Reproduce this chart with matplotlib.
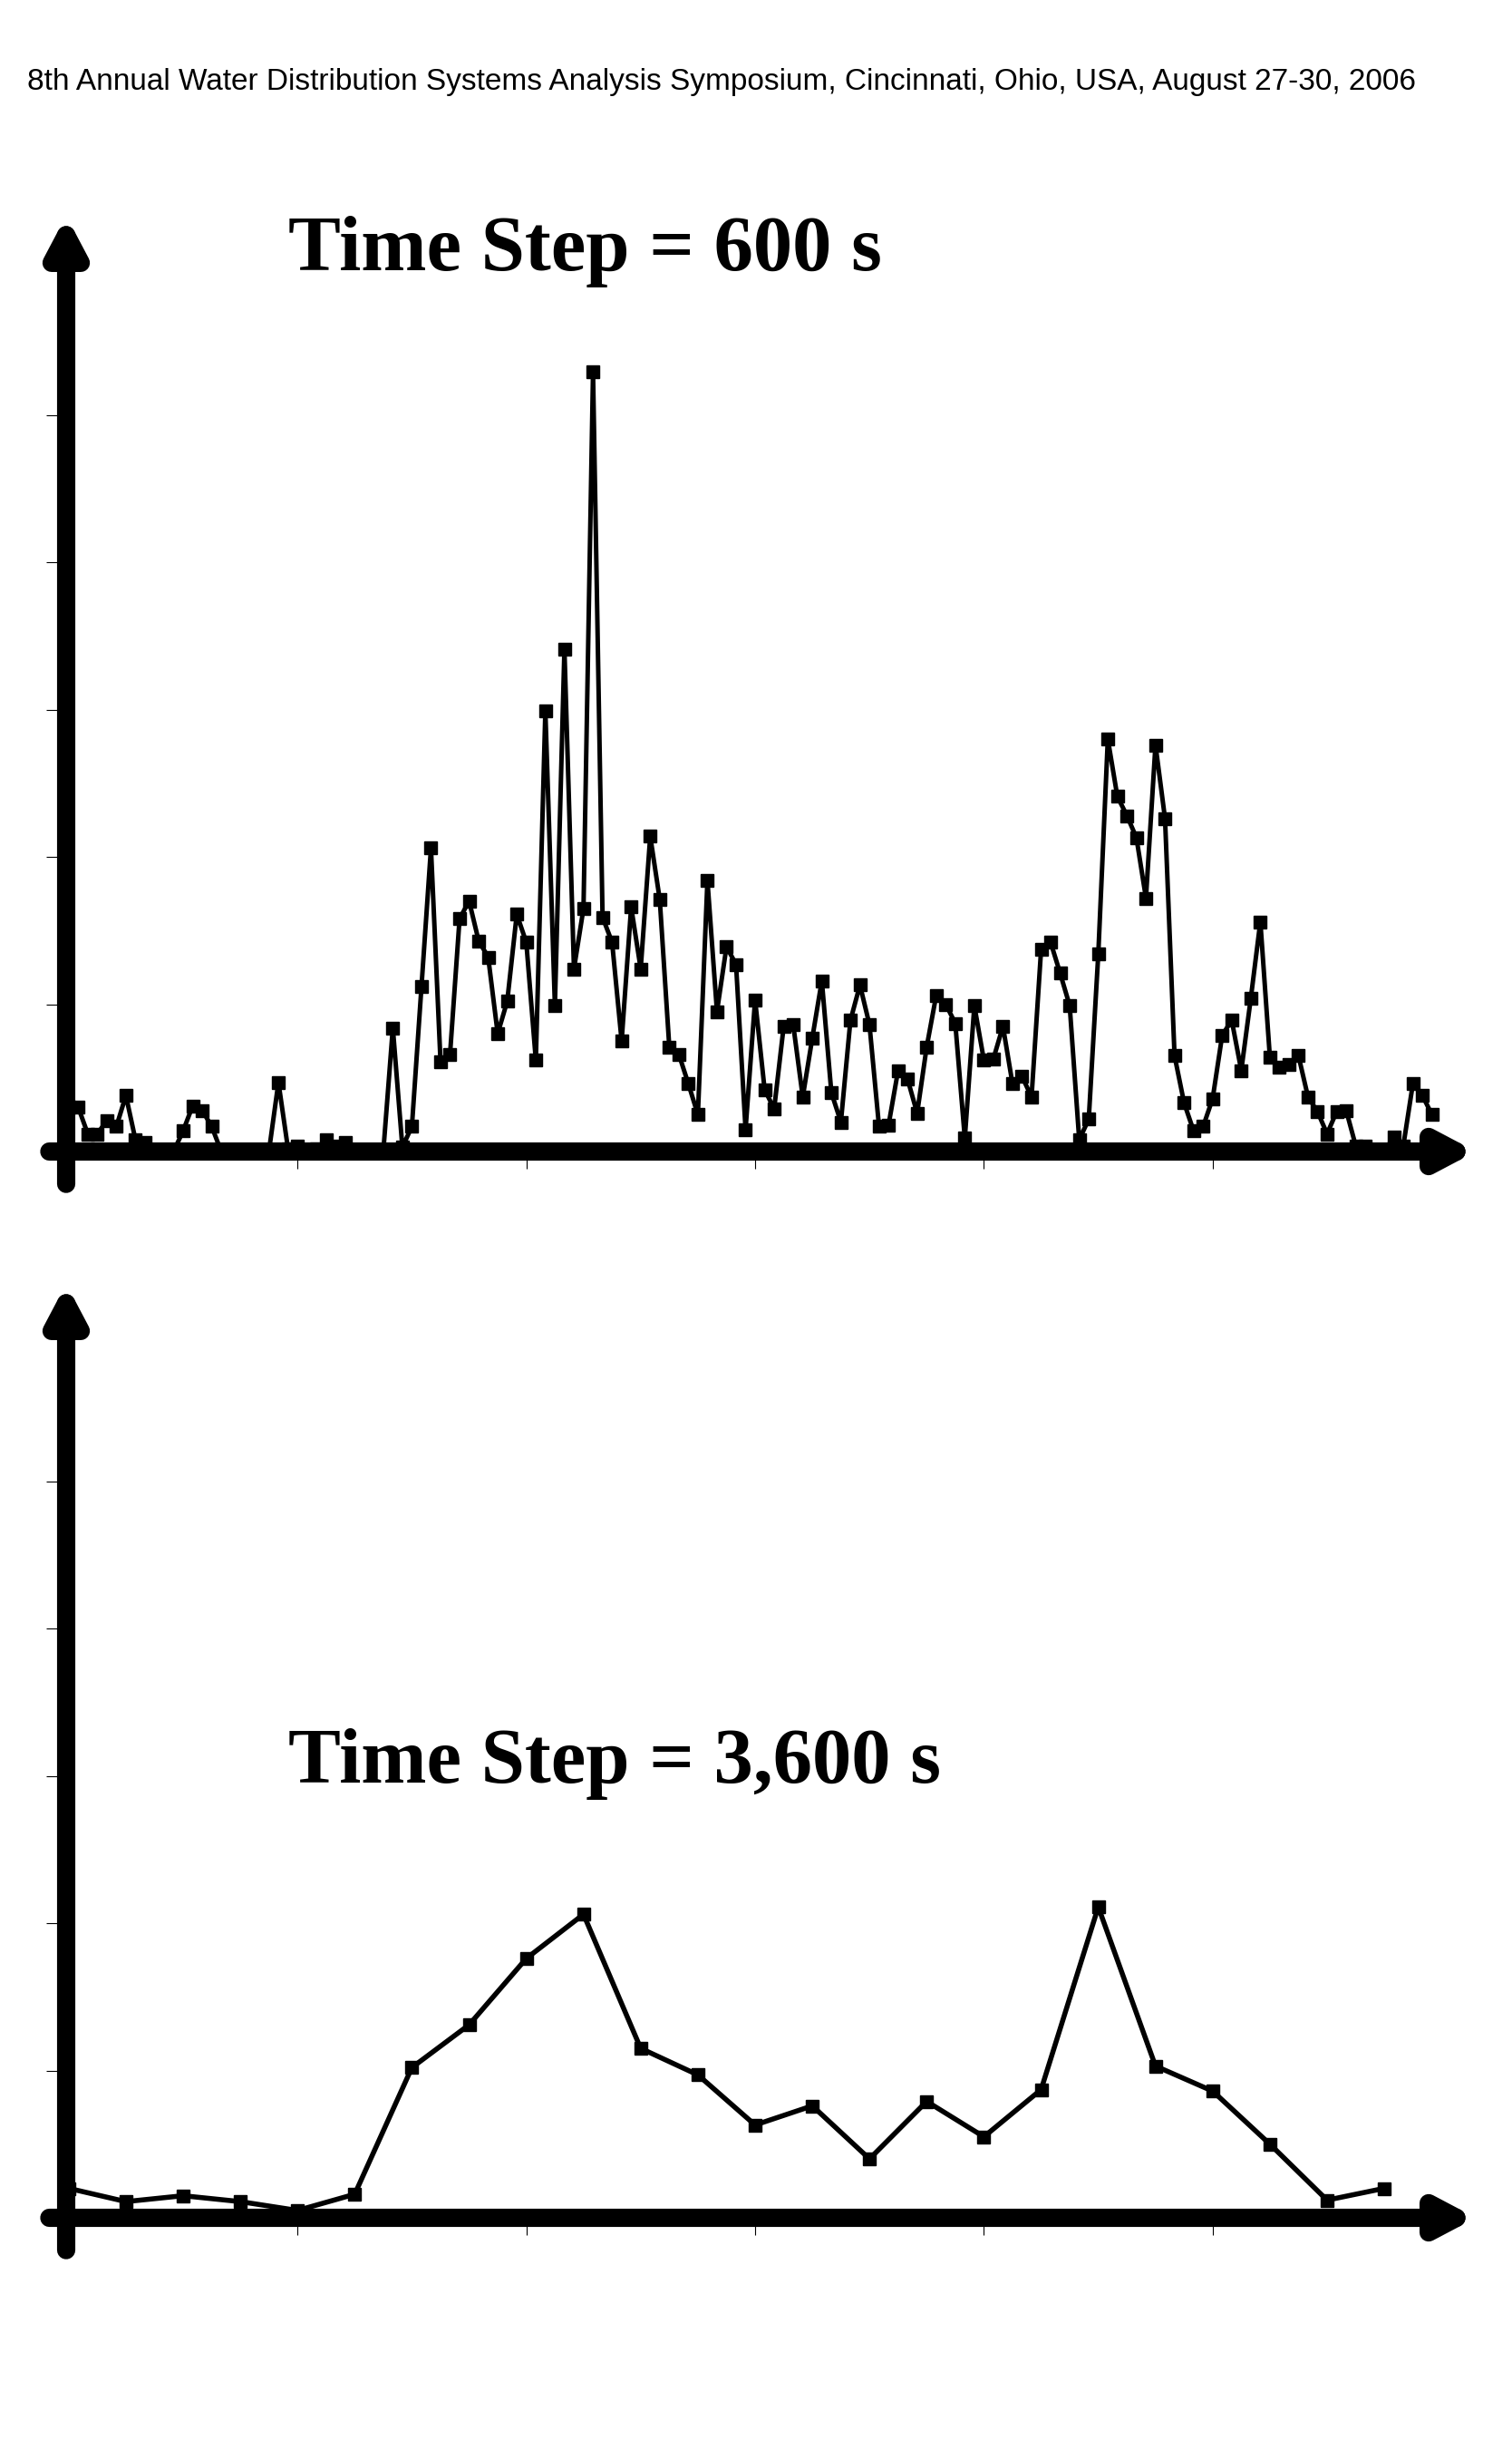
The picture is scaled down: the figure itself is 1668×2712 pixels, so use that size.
import numpy as np
import matplotlib
matplotlib.use("Agg")
from matplotlib import pyplot as plt

W, H = 1668, 2712

# demand-like values (units = one y tick)
step600 = [0.30, 0.30, 0.12, 0.12, 0.21, 0.17, 0.38, 0.08, 0.06, 0.0,
           0.0, 0.0, 0.14, 0.31, 0.28, 0.17, 0.0, 0.0, 0.0, 0.0,
           0.0, 0.0, 0.47, 0.02, 0.04, 0.0, 0.02, 0.08, 0.04, 0.06,
           0.0, 0.0, 0.0, 0.0, 0.84, 0.03, 0.17, 1.12, 2.06, 0.61,
           0.66, 1.58, 1.70, 1.43, 1.32, 0.80, 1.02, 1.61, 1.42, 0.62,
           2.99, 0.99, 3.41, 1.24, 1.65, 5.29, 1.59, 1.42, 0.75, 1.66,
           1.24, 2.14, 1.71, 0.71, 0.66, 0.46, 0.25, 1.84, 0.95, 1.39,
           1.27, 0.15, 1.03, 0.42, 0.29, 0.85, 0.86, 0.37, 0.77, 1.16,
           0.40, 0.20, 0.89, 1.13, 0.86, 0.17, 0.18, 0.55, 0.49, 0.26,
           0.71, 1.06, 1.00, 0.87, 0.09, 0.99, 0.62, 0.63, 0.85, 0.46,
           0.51, 0.37, 1.37, 1.42, 1.21, 0.99, 0.08, 0.22, 1.34, 2.80,
           2.41, 2.28, 2.13, 1.72, 2.76, 2.26, 0.65, 0.33, 0.14, 0.17,
           0.36, 0.79, 0.89, 0.55, 1.04, 1.56, 0.64, 0.57, 0.59, 0.65,
           0.37, 0.27, 0.12, 0.27, 0.28, 0.04, 0.04, 0.0, 0.0, 0.10,
           0.04, 0.46, 0.38, 0.25]
step3600 = [0.20, 0.11, 0.15, 0.11, 0.05, 0.16, 1.02, 1.31, 1.76, 2.06,
            1.15, 0.97, 0.63, 0.76, 0.40, 0.79, 0.55, 0.87, 2.11, 1.03,
            0.86, 0.50, 0.12, 0.20]

hours600 = np.arange(len(step600)) * 600 / 3600.0
hours3600 = np.arange(len(step3600)) * 3600 / 3600.0

x_ticks = [4, 8, 12, 16, 20]
y_ticks = [1, 2, 3, 4, 5]

header = "8th Annual Water Distribution Systems Analysis Symposium, Cincinnati, Ohio, USA, August 27-30, 2006"
titles = ["Time Step = 600 s", "Time Step = 3,600 s"]

fig = plt.figure(figsize=(W / 100, H / 100), dpi=100)
fig.patch.set_facecolor("white")


def make_axes(base_px, top_px):
    # axes box: left edge on the y-axis, bottom edge on the x-axis
    left, right = 73, 1622
    ax = fig.add_axes([left / W, (H - base_px) / H, (right - left) / W, (base_px - top_px) / H])
    ax.set_xlim((left - 75.8) / 63.1, (right - 75.8) / 63.1)
    ax.set_ylim(0, (base_px - top_px) / 162.5)
    for s in ax.spines.values():
        s.set_visible(False)
    ax.set_xticks(x_ticks)
    ax.set_yticks(y_ticks)
    ax.set_xticklabels([])
    ax.set_yticklabels([])
    ax.tick_params(axis="x", length=14, width=0.8, color="k", direction="out")
    ax.tick_params(axis="y", length=16, width=0.8, color="k", direction="out")
    ax.patch.set_alpha(0)
    arrow = dict(arrowstyle="-|>,head_length=1.1,head_width=0.58", lw=14.5, color="k",
                 shrinkA=0, shrinkB=0, mutation_scale=20, capstyle="round", joinstyle="round")
    # x axis
    ax.annotate("", xy=(1.004, 0), xytext=(-0.012, 0), xycoords="axes fraction",
                textcoords="axes fraction", arrowprops=arrow, annotation_clip=False, zorder=5)
    # y axis
    ax.annotate("", xy=(0, 1.012), xytext=(0, -0.035), xycoords="axes fraction",
                textcoords="axes fraction", arrowprops=arrow, annotation_clip=False, zorder=5)
    return ax


ax1 = make_axes(1270, 250)
ax1.plot(hours600, step600, "-s", color="k", lw=3.6, ms=9.5, clip_on=False, zorder=3)

ax2 = make_axes(2446, 1428)
ax2.plot(hours3600, step3600, "-s", color="k", lw=4.0, ms=10, clip_on=False, zorder=3)

fig.text(30 / W, 1 - 99 / H, header, family="Liberation Sans", fontsize=24,
         ha="left", va="baseline")
fig.text(318 / W, 1 - 298 / H, titles[0], family="Liberation Serif", weight="bold",
         fontsize=62.5, ha="left", va="baseline")
fig.text(318 / W, 1 - 1966 / H, titles[1], family="Liberation Serif", weight="bold",
         fontsize=62.5, ha="left", va="baseline")

fig.savefig("out.png", dpi=100, facecolor="white")
